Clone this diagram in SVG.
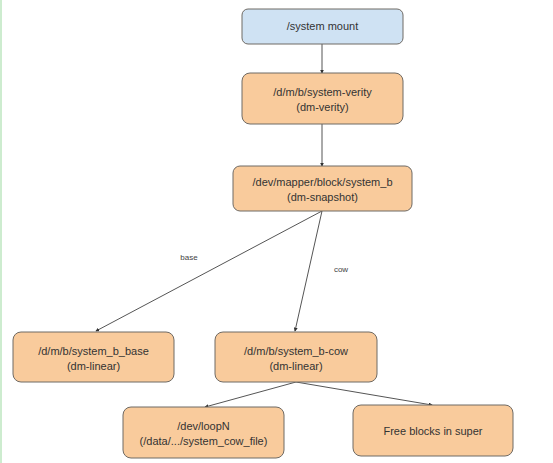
<svg xmlns="http://www.w3.org/2000/svg" width="553" height="463" viewBox="0 0 553 463">
<defs>
<style>
.n rect{stroke:#6f6a64;stroke-width:1}
.o rect{fill:#f9cb9c}
.b rect{fill:#cfe2f3}
text{font-family:"Liberation Sans",Arial,sans-serif;font-size:11px;fill:#333;text-anchor:middle}
.lbl{font-size:8px;fill:#444}
.c line{stroke:#555;stroke-width:1;marker-end:url(#ah)}
</style>
<marker id="ah" viewBox="0 0 6 6" refX="5" refY="3" markerWidth="4" markerHeight="4" orient="auto">
<path d="M0,0 L6,3 L0,6 z" fill="#333"/>
</marker>
</defs>
<rect x="0" y="0" width="553" height="463" fill="#fff"/>
<rect x="0" y="0" width="2" height="463" fill="#cdeccf"/>
<g id="connectors" class="c">
<line x1="322" y1="44" x2="322" y2="73"/>
<line x1="322" y1="124" x2="322" y2="166"/>
<line x1="322" y1="211" x2="96" y2="331"/>
<line x1="322" y1="211" x2="295" y2="331"/>
<line x1="296" y1="382" x2="205" y2="407"/>
<line x1="296" y1="382" x2="432" y2="405"/>
<text class="lbl" x="189" y="260">base</text>
<text class="lbl" x="341" y="272">cow</text>
</g>
<g id="system_mount" class="n b">
<rect x="242" y="9" width="161" height="35" rx="6"/>
<text x="322.5" y="30">/system mount</text>
</g>
<g id="system_verity" class="n o">
<rect x="242" y="73" width="161" height="51" rx="8"/>
<text x="322.5" y="96">/d/m/b/system-verity</text>
<text x="322.5" y="111">(dm-verity)</text>
</g>
<g id="system_b" class="n o">
<rect x="233" y="166" width="179" height="45" rx="7"/>
<text x="322.5" y="186">/dev/mapper/block/system_b</text>
<text x="322.5" y="201">(dm-snapshot)</text>
</g>
<g id="system_b_base" class="n o">
<rect x="13" y="332" width="161" height="50" rx="8"/>
<text x="93.5" y="355">/d/m/b/system_b_base</text>
<text x="93.5" y="370">(dm-linear)</text>
</g>
<g id="system_b_cow" class="n o">
<rect x="215" y="332" width="162" height="50" rx="8"/>
<text x="296" y="355">/d/m/b/system_b-cow</text>
<text x="296" y="370">(dm-linear)</text>
</g>
<g id="loopN" class="n o">
<rect x="123" y="407" width="161" height="51" rx="8"/>
<text x="203.5" y="430">/dev/loopN</text>
<text x="203.5" y="445">(/data/.../system_cow_file)</text>
</g>
<g id="free_blocks" class="n o">
<rect x="353" y="405" width="160" height="51" rx="8"/>
<text x="433" y="435">Free blocks in super</text>
</g>
</svg>
